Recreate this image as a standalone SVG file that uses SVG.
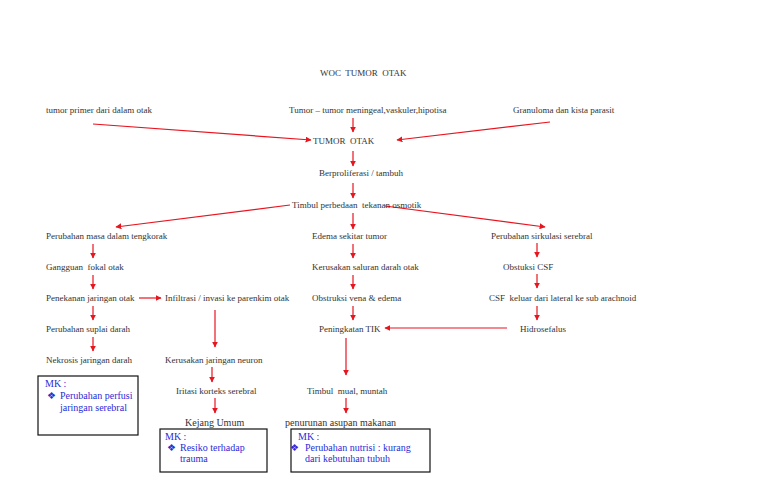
<svg xmlns="http://www.w3.org/2000/svg" width="768" height="503" viewBox="0 0 768 503">
<defs>
<marker id="ah" viewBox="0 0 10 10" refX="9" refY="5" markerWidth="6" markerHeight="6" markerUnits="userSpaceOnUse" orient="auto">
<path d="M0,0 L10,5 L0,10 z" fill="#e8141e"/>
</marker>
</defs>
<style>
text{font-family:"Liberation Serif","Times New Roman",serif;fill:#333;font-size:9px;white-space:pre}
.t{font-size:9px}
.k{font-size:10px}
.b{fill:#2b2bd6;font-size:10px}
.c line,.c path{stroke:#e8141e;stroke-width:1.2;fill:none;marker-end:url(#ah)}
.box{fill:none;stroke:#111;stroke-width:1.2}
</style>
<rect width="768" height="503" fill="#fff"/>
<text id="title" class="t" x="320" y="76">WOC  TUMOR  OTAK</text>
<g class="c" id="connectors">
<line x1="93" y1="124" x2="311" y2="140"/>
<line x1="353" y1="118" x2="353" y2="132"/>
<line x1="550" y1="122" x2="397" y2="140"/>
<line x1="353" y1="151" x2="353" y2="166"/>
<line x1="353" y1="183" x2="353" y2="198"/>
<line x1="290" y1="205" x2="116" y2="227"/>
<line x1="385" y1="206" x2="545" y2="227"/>
<line x1="353" y1="213" x2="353" y2="229"/>
<line x1="93" y1="244" x2="93" y2="258"/>
<line x1="353" y1="244" x2="353" y2="258"/>
<line x1="537" y1="243" x2="537" y2="257"/>
<line x1="93" y1="275" x2="93" y2="289"/>
<line x1="353" y1="275" x2="353" y2="289"/>
<line x1="537" y1="274" x2="537" y2="288"/>
<line x1="139" y1="298" x2="161" y2="298"/>
<line x1="93" y1="306" x2="93" y2="320"/>
<line x1="215" y1="310" x2="215" y2="347"/>
<line x1="353" y1="306" x2="353" y2="320"/>
<line x1="537" y1="306" x2="537" y2="320"/>
<line x1="507" y1="328" x2="385" y2="328"/>
<line x1="93" y1="337" x2="93" y2="351"/>
<line x1="346" y1="338" x2="346" y2="375"/>
<line x1="212" y1="367" x2="212" y2="382"/>
<line x1="215" y1="398" x2="215" y2="413"/>
<line x1="346" y1="398" x2="346" y2="413"/>
</g>
<g id="n1"><text x="46" y="113">tumor primer dari dalam otak</text></g>
<g id="n2"><text x="289" y="113">Tumor – tumor meningeal,vaskuler,hipotisa</text></g>
<g id="n3"><text x="513" y="113">Granuloma dan kista parasit</text></g>
<g id="n4"><text class="t" x="313" y="144">TUMOR  OTAK</text></g>
<g id="n5"><text x="319" y="176">Berproliferasi / tambuh</text></g>
<g id="n6"><text x="292" y="208">Timbul perbedaan  tekanan osmotik</text></g>
<g id="n7"><text x="46" y="239">Perubahan masa dalam tengkorak</text></g>
<g id="n8"><text x="312" y="239">Edema sekitar tumor</text></g>
<g id="n9"><text x="491" y="239">Perubahan sirkulasi serebral</text></g>
<g id="n10"><text x="46" y="270">Gangguan  fokal otak</text></g>
<g id="n11"><text x="312" y="270">Kerusakan saluran darah otak</text></g>
<g id="n12"><text x="503" y="270">Obstuksi CSF</text></g>
<g id="n13"><text x="46" y="301">Penekanan jaringan otak</text></g>
<g id="n14"><text x="165" y="301">Infiltrasi / invasi ke parenkim otak</text></g>
<g id="n15"><text x="312" y="301">Obstruksi vena &amp; edema</text></g>
<g id="n16"><text x="489" y="301">CSF  keluar dari lateral ke sub arachnoid</text></g>
<g id="n17"><text x="46" y="332">Perubahan suplai darah</text></g>
<g id="n18"><text x="319" y="332">Peningkatan TIK</text></g>
<g id="n19"><text x="520" y="332">Hidrosefalus</text></g>
<g id="n20"><text x="46" y="363">Nekrosis jaringan darah</text></g>
<g id="n21"><text x="165" y="363">Kerusakan jaringan neuron</text></g>
<g id="n22"><text x="176" y="394">Iritasi korteks serebral</text></g>
<g id="n23"><text x="307" y="394">Timbul  mual, muntah</text></g>
<g id="n24"><text class="k" x="185" y="426">Kejang Umum</text></g>
<g id="n25"><text class="k" x="285" y="426">penurunan asupan makanan</text></g>
<g id="mk1">
<rect class="box" x="38" y="376" width="100" height="59"/>
<text class="b" x="45" y="387">MK :</text>
<text class="b" x="47" y="399" font-size="8">❖</text>
<text class="b" x="60" y="399">Perubahan perfusi</text>
<text class="b" x="60" y="411">jaringan serebral</text>
</g>
<g id="mk2">
<rect class="box" x="160" y="429" width="107" height="43"/>
<text class="b" x="165" y="440">MK :</text>
<text class="b" x="167" y="451" font-size="8">❖</text>
<text class="b" x="180" y="451">Resiko terhadap</text>
<text class="b" x="180" y="462">trauma</text>
</g>
<g id="mk3">
<rect class="box" x="291" y="429" width="139" height="43"/>
<text class="b" x="298" y="440">MK :</text>
<text class="b" x="290" y="451" font-size="8">❖</text>
<text class="b" x="305" y="451">Perubahan nutrisi : kurang</text>
<text class="b" x="305" y="462">dari kebutuhan tubuh</text>
</g>
</svg>
